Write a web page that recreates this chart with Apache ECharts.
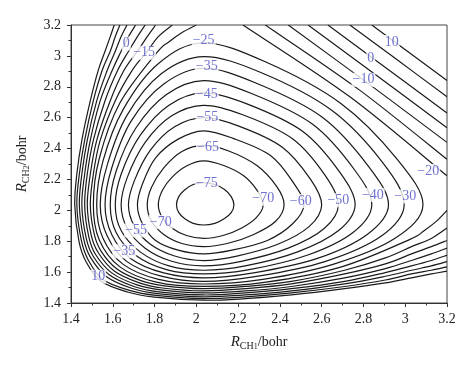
<!DOCTYPE html>
<html>
<head>
<meta charset="utf-8">
<script src="https://cdn.jsdelivr.net/npm/echarts@6/dist/echarts.min.js"></script>
<style>html,body{margin:0;padding:0;background:#fff}#main{width:474px;height:369px}</style>
</head>
<body>
<div id="main"></div>
<script>
// closed contours around the well (level -75 ... -25)
var ringM75 = [[2.035,2.18],[2.089,2.167],[2.135,2.135],[2.167,2.089],[2.18,2.035],[2.167,1.985],[2.133,1.945],[2.089,1.916],[2.035,1.905],[1.985,1.916],[1.945,1.945],[1.916,1.985],[1.905,2.035],[1.916,2.089],[1.945,2.133],[1.985,2.167],[2.035,2.18]];
var ringM70 = [[2.035,2.32],[2.131,2.29],[2.225,2.225],[2.29,2.131],[2.32,2.035],[2.287,1.953],[2.215,1.884],[2.128,1.837],[2.035,1.818],[1.953,1.837],[1.884,1.884],[1.837,1.953],[1.818,2.035],[1.837,2.128],[1.884,2.215],[1.953,2.287],[2.035,2.32]];
var ringM65 = [[2.035,2.42],[2.152,2.386],[2.29,2.29],[2.386,2.152],[2.42,2.035],[2.381,1.931],[2.275,1.844],[2.148,1.785],[2.035,1.765],[1.931,1.785],[1.844,1.844],[1.785,1.931],[1.765,2.035],[1.785,2.148],[1.844,2.275],[1.931,2.381],[2.035,2.42]];
var ringM60 = [[2.035,2.515],[2.176,2.466],[2.355,2.355],[2.466,2.176],[2.515,2.035],[2.461,1.913],[2.34,1.805],[2.171,1.742],[2.035,1.718],[1.913,1.742],[1.805,1.805],[1.742,1.913],[1.718,2.035],[1.742,2.171],[1.805,2.34],[1.913,2.461],[2.035,2.515]];
var ringM55 = [[2.035,2.6],[2.2,2.547],[2.41,2.41],[2.547,2.2],[2.6,2.035],[2.541,1.896],[2.39,1.78],[2.194,1.704],[2.035,1.675],[1.896,1.704],[1.78,1.78],[1.704,1.896],[1.675,2.035],[1.704,2.194],[1.78,2.39],[1.896,2.541],[2.035,2.6]];
var ringM50 = [[2.035,2.68],[2.222,2.619],[2.462,2.462],[2.619,2.222],[2.68,2.035],[2.612,1.882],[2.44,1.755],[2.215,1.67],[2.035,1.64],[1.882,1.67],[1.755,1.755],[1.67,1.882],[1.64,2.035],[1.67,2.215],[1.755,2.44],[1.882,2.612],[2.035,2.68]];
var ringM45 = [[2.035,2.76],[2.242,2.689],[2.51,2.51],[2.689,2.242],[2.76,2.035],[2.681,1.869],[2.485,1.731],[2.234,1.64],[2.035,1.612],[1.869,1.64],[1.731,1.731],[1.64,1.869],[1.612,2.035],[1.64,2.234],[1.731,2.485],[1.869,2.681],[2.035,2.76]];
var ringM40 = [[2.035,2.84],[2.261,2.758],[2.557,2.557],[2.758,2.261],[2.84,2.035],[2.75,1.857],[2.53,1.709],[2.253,1.616],[2.035,1.588],[1.857,1.616],[1.709,1.709],[1.616,1.857],[1.588,2.035],[1.616,2.253],[1.709,2.53],[1.857,2.75],[2.035,2.84]];
var ringM35 = [[2.035,2.92],[2.282,2.826],[2.603,2.603],[2.826,2.282],[2.92,2.035],[2.818,1.844],[2.576,1.687],[2.274,1.595],[2.035,1.563],[1.844,1.595],[1.687,1.687],[1.595,1.844],[1.563,2.035],[1.595,2.274],[1.687,2.576],[1.844,2.818],[2.035,2.92]];
var ringM30 = [[2.035,2.995],[2.306,2.894],[2.648,2.648],[2.894,2.306],[2.995,2.035],[2.884,1.832],[2.615,1.668],[2.296,1.574],[2.035,1.54],[1.832,1.574],[1.668,1.668],[1.574,1.832],[1.54,2.035],[1.574,2.296],[1.668,2.615],[1.832,2.884],[2.035,2.995]];
var ringM25 = [[2.035,3.085],[2.33,2.962],[2.692,2.692],[2.962,2.33],[3.085,2.035],[2.951,1.819],[2.654,1.65],[2.319,1.553],[2.035,1.523],[1.819,1.553],[1.65,1.65],[1.553,1.819],[1.523,2.035],[1.553,2.319],[1.65,2.654],[1.819,2.951],[2.035,3.085]];

// open contours: from the top edge, round the lower-left wall, to the right edge
var wallM20 = [[2.0,3.2],[1.93,3.15],[1.868,3.09],[1.809,3.018],[1.634,2.695],[1.535,2.334],[1.507,2.035],[1.535,1.809],[1.634,1.634],[1.809,1.535],[2.035,1.507],[2.334,1.535],[2.695,1.634],[3.018,1.809],[3.09,1.868],[3.15,1.93],[3.2,2.0]];
var wallM15 = [[1.885,3.2],[1.818,3.125],[1.765,3.03],[1.692,2.905],[1.612,2.71],[1.54,2.455],[1.507,2.235],[1.4925,2.035],[1.511,1.847],[1.543,1.738],[1.62,1.62],[1.738,1.543],[1.847,1.511],[2.035,1.4925],[2.235,1.507],[2.455,1.54],[2.71,1.612],[2.905,1.692],[3.03,1.765],[3.125,1.818],[3.2,1.885]];
var wallM10 = [[1.805,3.2],[1.765,3.125],[1.718,3.03],[1.653,2.905],[1.588,2.71],[1.5235,2.455],[1.4925,2.235],[1.478,2.035],[1.497,1.838],[1.53,1.727],[1.607,1.607],[1.727,1.53],[1.838,1.497],[2.035,1.478],[2.235,1.4925],[2.455,1.5235],[2.71,1.588],[2.905,1.653],[3.03,1.718],[3.125,1.765],[3.2,1.805]];
var wallM5 = [[1.755,3.2],[1.718,3.125],[1.6755,3.03],[1.623,2.905],[1.563,2.71],[1.507,2.455],[1.478,2.235],[1.4655,2.035],[1.485,1.83],[1.517,1.716],[1.595,1.595],[1.716,1.517],[1.83,1.485],[2.035,1.4655],[2.235,1.478],[2.455,1.507],[2.71,1.563],[2.905,1.623],[3.03,1.6755],[3.125,1.718],[3.2,1.755]];
var wall0 = [[1.709,3.2],[1.6755,3.125],[1.64,3.03],[1.597,2.905],[1.54,2.71],[1.4925,2.455],[1.4655,2.235],[1.452,2.035],[1.4725,1.821],[1.5055,1.7045],[1.583,1.583],[1.7045,1.5055],[1.821,1.4725],[2.035,1.452],[2.235,1.4655],[2.455,1.4925],[2.71,1.54],[2.905,1.597],[3.03,1.64],[3.125,1.6755],[3.2,1.709]];
var wall5 = [[1.668,3.2],[1.64,3.125],[1.612,3.03],[1.573,2.905],[1.5235,2.71],[1.478,2.455],[1.452,2.235],[1.44,2.035],[1.461,1.814],[1.494,1.694],[1.5705,1.5705],[1.694,1.494],[1.814,1.461],[2.035,1.44],[2.235,1.452],[2.455,1.478],[2.71,1.5235],[2.905,1.573],[3.03,1.612],[3.125,1.64],[3.2,1.668]];
var wall10 = [[1.634,3.2],[1.612,3.125],[1.588,3.03],[1.549,2.905],[1.507,2.71],[1.4655,2.455],[1.44,2.235],[1.428,2.035],[1.449,1.808],[1.482,1.68],[1.552,1.552],[1.68,1.482],[1.808,1.449],[2.035,1.428],[2.235,1.44],[2.455,1.4655],[2.71,1.507],[2.905,1.549],[3.03,1.588],[3.125,1.612],[3.2,1.634]];
var wall15 = [[1.607,3.2],[1.588,3.125],[1.563,3.03],[1.53,2.905],[1.4925,2.71],[1.452,2.455],[1.428,2.235],[1.418,2.035],[1.438,1.8],[1.471,1.67],[1.542,1.542],[1.67,1.471],[1.8,1.438],[2.035,1.418],[2.235,1.428],[2.455,1.452],[2.71,1.4925],[2.905,1.53],[3.03,1.563],[3.125,1.588],[3.2,1.607]];

// upper-right corner lines (both bonds stretched)
var cornerM20 = [[2.223,3.2],[2.735,2.735],[3.2,2.223]];
var cornerM15 = [[2.33,3.2],[2.78,2.78],[3.2,2.33]];
var cornerM10 = [[2.44,3.2],[2.822,2.822],[3.2,2.44]];
var cornerM5 = [[2.535,3.2],[2.868,2.868],[3.2,2.535]];
var corner0 = [[2.63,3.2],[2.915,2.915],[3.2,2.63]];
var corner5 = [[2.735,3.2],[2.968,2.968],[3.2,2.735]];
var corner10 = [[2.84,3.2],[3.02,3.02],[3.2,2.84]];

// contour labels
var labelText = ['\u221275','\u221270','\u221260','\u221250','\u221240','\u221230','\u221220','10','0','\u221210','\u221225','\u221235','\u221245','\u221255','\u221265','0','\u221215','\u221270','\u221255','\u221235','10'];
var labelX = [2.05, 2.32, 2.50, 2.68, 2.845, 3.00, 3.11, 2.935, 2.835, 2.80, 2.035, 2.05, 2.05, 2.053, 2.056, 1.665, 1.75, 1.83, 1.712, 1.655, 1.53];
var labelY = [2.172, 2.075, 2.06, 2.065, 2.10, 2.09, 2.255, 3.09, 2.985, 2.845, 3.10, 2.93, 2.75, 2.60, 2.41, 3.08, 3.02, 1.925, 1.87, 1.735, 1.57];

var contours = [ringM75, ringM70, ringM65, ringM60, ringM55, ringM50, ringM45, ringM40, ringM35, ringM30, ringM25,
  wallM20, wallM15, wallM10, wallM5, wall0, wall5, wall10, wall15,
  cornerM20, cornerM15, cornerM10, cornerM5, corner0, corner5, corner10];

var chartDom = document.getElementById('main');
var myChart = echarts.init(chartDom);
var serif = 'Liberation Serif';

// smooth curve (Catmull-Rom as cubic beziers) through the pixel points
function curvePath(P, closed) {
  var m = P.length;
  var d = 'M' + P[0][0].toFixed(2) + ' ' + P[0][1].toFixed(2);
  var segs = closed ? m : m - 1;
  for (var i = 0; i < segs; i++) {
    var p0 = P[closed ? (i - 1 + m) % m : Math.max(i - 1, 0)];
    var p1 = P[i];
    var p2 = P[closed ? (i + 1) % m : i + 1];
    var p3 = P[closed ? (i + 2) % m : Math.min(i + 2, m - 1)];
    var c1x = p1[0] + (p2[0] - p0[0]) / 6, c1y = p1[1] + (p2[1] - p0[1]) / 6;
    var c2x = p2[0] - (p3[0] - p1[0]) / 6, c2y = p2[1] - (p3[1] - p1[1]) / 6;
    d += ' C' + c1x.toFixed(2) + ' ' + c1y.toFixed(2) + ' ' + c2x.toFixed(2) + ' ' + c2y.toFixed(2) + ' ' + p2[0].toFixed(2) + ' ' + p2[1].toFixed(2);
  }
  return closed ? d + ' Z' : d;
}

var series = contours.map(function (c) {
  var closed = c[0][0] === c[c.length - 1][0] && c[0][1] === c[c.length - 1][1];
  return {
    type: 'custom',
    data: c,
    encode: { x: 0, y: 1 },
    clip: true,
    silent: true,
    z: 2,
    renderItem: function (params, api) {
      if (params.dataIndex !== 0) return;
      var pts = c.map(function (p) { return api.coord(p); });
      if (closed) pts = pts.slice(0, pts.length - 1);
      return {
        type: 'path',
        shape: { pathData: curvePath(pts, closed) },
        style: { fill: 'none', stroke: '#1a1a1a', lineWidth: 1.2 }
      };
    }
  };
});

series.push({
  type: 'scatter',
  symbolSize: 1,
  itemStyle: { color: 'rgba(0,0,0,0)' },
  silent: true,
  z: 5,
  data: labelText.map(function (t, i) {
    return { name: t, value: [labelX[i], labelY[i]] };
  }),
  label: {
    show: true,
    position: 'inside',
    formatter: '{b}',
    color: '#4b4fc6',
    fontFamily: serif,
    fontSize: 14,
    backgroundColor: '#fff',
    padding: [0, 1]
  }
});

var nameRich = function () {
  return {
    r: { fontFamily: serif, fontStyle: 'italic', fontSize: 15, color: '#222', lineHeight: 18, verticalAlign: 'middle' },
    s: { fontFamily: serif, fontSize: 10, color: '#222', lineHeight: 10, verticalAlign: 'bottom' },
    ss: { fontFamily: serif, fontSize: 8, color: '#222', lineHeight: 8, verticalAlign: 'bottom' },
    n: { fontFamily: serif, fontSize: 14, color: '#222', lineHeight: 18, verticalAlign: 'middle' }
  };
};

var axisCommon = {
  type: 'value',
  min: 1.4,
  max: 3.2,
  interval: 0.2,
  splitLine: { show: false },
  axisLine: { show: true, lineStyle: { color: '#333', width: 1 } },
  axisTick: { show: true, length: 4, lineStyle: { color: '#333' } },
  minorTick: { show: true, splitNumber: 2, length: 2.5, lineStyle: { color: '#333' } },
  nameTextStyle: { rich: nameRich() }
};

option = {
  animation: false,
  backgroundColor: '#fff',
  grid: { left: 71, right: 27, top: 25, bottom: 66, show: true, borderColor: '#444', borderWidth: 1 },
  xAxis: Object.assign({}, axisCommon, {
    name: '{r|R}{s|CH}{ss|1}{n|/bohr}',
    nameLocation: 'middle',
    nameGap: 30,
    axisLabel: { margin: 9, fontFamily: serif, fontSize: 14, color: '#222' }
  }),
  yAxis: Object.assign({}, axisCommon, {
    name: '{r|R}{s|CH}{ss|2}{n|/bohr}',
    nameLocation: 'middle',
    nameGap: 40,
    axisLabel: { margin: 10, fontFamily: serif, fontSize: 14, color: '#222' }
  }),
  series: series
};

option && myChart.setOption(option);
</script>
</body>
</html>
